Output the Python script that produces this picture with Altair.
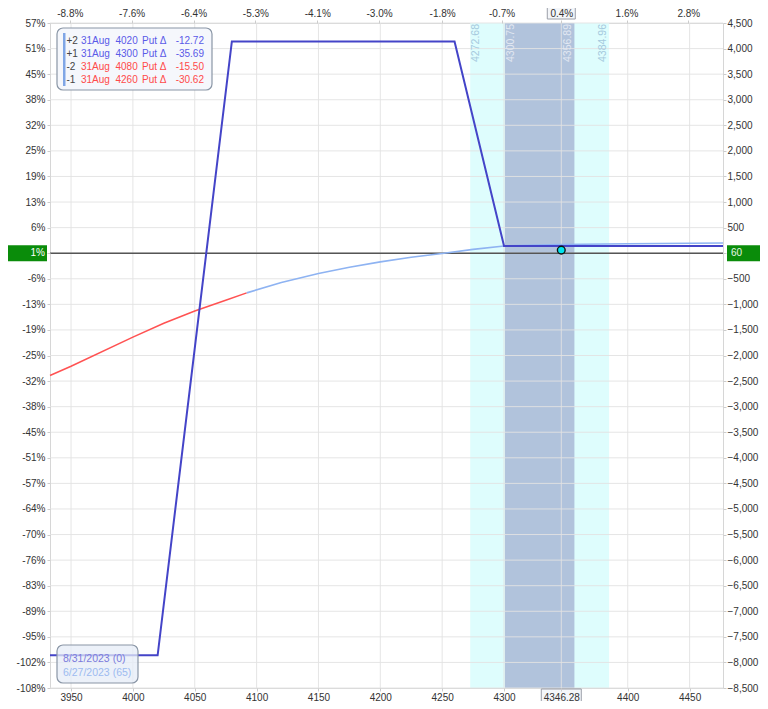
import json
import altair as alt
import pandas as pd

FONT = "Liberation Sans"
W, H = 673, 665

# ---------------- data ----------------
x_domain = [3933, 4477]
y_domain = [-8500, 4500]

# expiration P&L (8/31/2023)
exp_price = [3933, 4020, 4080, 4260, 4300, 4477]
exp_pnl = [-7860, -7860, 4140, 4140, 140, 140]

# T+0 P&L (6/27/2023)
t0_price = [3933, 3950, 4000, 4025, 4050, 4075, 4092, 4120, 4150, 4175, 4200,
            4225, 4250, 4275, 4300, 4346, 4400, 4477]
t0_pnl = [-2390, -2210, -1640, -1370, -1130, -920, -776, -573, -397, -275, -170,
          -80, -5, 75, 140, 170, 185, 200]
t0_red_until = 4092

# bands
outer_band = [4272.68, 4384.96]
inner_band = [4300.75, 4356.89]

# current point
cur_price = 4346.28
cur_pnl = 60

# axes
bottom_ticks = [3950, 4000, 4050, 4100, 4150, 4200, 4250, 4300, 4346.28, 4400, 4450]
top_vals = [3949, 3999, 4049, 4099, 4149, 4199, 4250, 4298, 4346.28, 4399, 4449]
top_labels = ["-8.8%", "-7.6%", "-6.4%", "-5.3%", "-4.1%", "-3.0%", "-1.8%",
              "-0.7%", "0.4%", "1.6%", "2.8%"]
y_ticks = list(range(4500, -9000, -500))
left_labels = ["57%", "51%", "45%", "38%", "32%", "25%", "19%", "13%", "6%", "1%",
               "-6%", "-13%", "-19%", "-25%", "-32%", "-38%", "-45%", "-51%", "-57%",
               "-64%", "-70%", "-76%", "-83%", "-89%", "-95%", "-102%", "-108%"]
right_zero_label = "60"

# legend
leg_qty = ["+2", "+1", "-2", "-1"]
leg_exp = ["31Aug", "31Aug", "31Aug", "31Aug"]
leg_strike = [4020, 4300, 4080, 4260]
leg_delta = [-12.72, -35.69, -15.50, -30.62]
leg_dates = ["8/31/2023 (0)", "6/27/2023 (65)"]

# ---------------- styles ----------------
BLUE = "#4444c8"
LIGHT = "#8eb3f2"
RED = "#ff5252"
xs = alt.Scale(domain=x_domain, nice=False, zero=False)
ys = alt.Scale(domain=y_domain, nice=False, zero=False)

axis_common = dict(labelFont=FONT, labelFontSize=10, labelColor="#333333",
                   domain=False, grid=False, tickColor="#cccccc", tickSize=3,
                   labelOverlap=False, labelFlush=False, zindex=1, title=None)

exp_df = pd.DataFrame({"p": exp_price, "v": exp_pnl})
t0_df = pd.DataFrame({"p": t0_price, "v": t0_pnl})
red_df = t0_df[t0_df.p <= t0_red_until]
blue_df = t0_df[t0_df.p >= t0_red_until]

layers = []

# bands
layers.append(alt.Chart(pd.DataFrame({"a": [outer_band[0]], "b": [outer_band[1]]}))
              .mark_rect(color="#defdfd")
              .encode(x=alt.X("a:Q", scale=xs, axis=None), x2="b:Q",
                      y=alt.value(0), y2=alt.value(H)))
layers.append(alt.Chart(pd.DataFrame({"a": [inner_band[0]], "b": [inner_band[1]]}))
              .mark_rect(color="#b1c3dc")
              .encode(x=alt.X("a:Q", scale=xs, axis=None), x2="b:Q",
                      y=alt.value(0), y2=alt.value(H)))

# grid
layers.append(alt.Chart(pd.DataFrame({"p": bottom_ticks}))
              .mark_rule(color="#e2e2e2", strokeWidth=1, opacity=0.9)
              .encode(x=alt.X("p:Q", scale=xs, axis=None)))
layers.append(alt.Chart(pd.DataFrame({"v": y_ticks}))
              .mark_rule(color="#e2e2e2", strokeWidth=1, opacity=0.9)
              .encode(y=alt.Y("v:Q", scale=ys, axis=None)))

# band labels
lab_lo = pd.DataFrame({"p": [outer_band[0]], "t": [f"{outer_band[0]:.2f}"]})
lab_lo2 = pd.DataFrame({"p": [inner_band[0]], "t": [f"{inner_band[0]:.2f}"]})
lab_hi2 = pd.DataFrame({"p": [inner_band[1]], "t": [f"{inner_band[1]:.2f}"]})
lab_hi = pd.DataFrame({"p": [outer_band[1]], "t": [f"{outer_band[1]:.2f}"]})
for df, off, col in [(lab_lo, 6, "#a5c9de"), (lab_lo2, 6, "#e2e8f2"),
                     (lab_hi2, -6, "#e2e8f2"), (lab_hi, -6, "#a5c9de")]:
    layers.append(alt.Chart(df)
                  .mark_text(angle=270, align="right", baseline="middle", font=FONT,
                             fontSize=10.5, color=col, xOffset=off)
                  .encode(x=alt.X("p:Q", scale=xs, axis=None), y=alt.value(1),
                          text="t:N"))

# zero line
layers.append(alt.Chart(pd.DataFrame({"v": [0]}))
              .mark_rule(color="#555555", strokeWidth=1.5)
              .encode(y=alt.Y("v:Q", scale=ys, axis=None)))

# T+0 line (red part + light blue part, light blue carries top/right axes)
layers.append(alt.Chart(red_df).mark_line(color=RED, strokeWidth=1.5)
              .encode(x=alt.X("p:Q", scale=xs, axis=None),
                      y=alt.Y("v:Q", scale=ys, axis=None)))
top_expr = f"{json.dumps(top_labels)}[indexof({json.dumps(top_vals)}, datum.value)]"
layers.append(alt.Chart(blue_df).mark_line(color=LIGHT, strokeWidth=1.6)
              .encode(x=alt.X("p:Q", scale=xs,
                              axis=alt.Axis(orient="top", values=top_vals,
                                            labelExpr=top_expr, labelPadding=2,
                                            **axis_common)),
                      y=alt.Y("v:Q", scale=ys,
                              axis=alt.Axis(orient="right", values=y_ticks,
                                            labelExpr="datum.value == 0 ? '' : format(datum.value, ',')",
                                            labelPadding=1, **axis_common))))

# expiration line with bottom/left axes
bottom_expr = ("abs(datum.value - 4346.28) < 0.01 ? '4346.28' : format(datum.value, 'd')")
left_expr = f"datum.value == 0 ? '' : {json.dumps(left_labels)}[round((4500 - datum.value) / 500)]"
layers.append(alt.Chart(exp_df).mark_line(color=BLUE, strokeWidth=2)
              .encode(x=alt.X("p:Q", scale=xs,
                              axis=alt.Axis(orient="bottom", values=bottom_ticks,
                                            labelExpr=bottom_expr, labelPadding=1,
                                            **axis_common)),
                      y=alt.Y("v:Q", scale=ys,
                              axis=alt.Axis(orient="left", values=y_ticks,
                                            labelExpr=left_expr, labelPadding=2,
                                            **axis_common))))

# current point
cur_df = pd.DataFrame({"p": [cur_price], "v": [cur_pnl]})
layers.append(alt.Chart(cur_df)
              .mark_circle(size=60, color="#00e4ee", opacity=1, stroke="#111111",
                           strokeWidth=1.4)
              .encode(x=alt.X("p:Q", scale=xs, axis=None),
                      y=alt.Y("v:Q", scale=ys, axis=None)))

# highlight boxes for current price on top / bottom axes
layers.append(alt.Chart(cur_df)
              .mark_rect(width=28, height=13, fill="#eef1f6", stroke="#5a6070",
                         strokeWidth=1, opacity=0.6)
              .encode(x=alt.X("p:Q", scale=xs, axis=None), y=alt.value(-10.5)))
layers.append(alt.Chart(cur_df)
              .mark_rect(width=40, height=15, fill="#eef1f6", stroke="#5a6070",
                         strokeWidth=1, opacity=0.6)
              .encode(x=alt.X("p:Q", scale=xs, axis=None), y=alt.value(673.5)))

# green boxes for current values on y axes
zero_df = pd.DataFrame({"v": [0], "l": [left_labels[9]], "r": [right_zero_label]})
layers.append(alt.Chart(zero_df).mark_rect(height=16, color="#0a8c0a")
              .encode(x=alt.value(-50), x2=alt.value(-3),
                      y=alt.Y("v:Q", scale=ys, axis=None)))
layers.append(alt.Chart(zero_df).mark_rect(height=16, color="#0a8c0a")
              .encode(x=alt.value(677), x2=alt.value(720),
                      y=alt.Y("v:Q", scale=ys, axis=None)))
layers.append(alt.Chart(zero_df)
              .mark_text(align="right", baseline="middle", font=FONT, fontSize=10,
                         color="white")
              .encode(x=alt.value(-5), y=alt.Y("v:Q", scale=ys, axis=None), text="l:N"))
layers.append(alt.Chart(zero_df)
              .mark_text(align="left", baseline="middle", font=FONT, fontSize=10,
                         color="#e6f5e6")
              .encode(x=alt.value(681), y=alt.Y("v:Q", scale=ys, axis=None), text="r:N"))


def txt(s, x, y, color, size=10, align="left"):
    return (alt.Chart(pd.DataFrame({"t": [s]}))
            .mark_text(align=align, baseline="middle", font=FONT, fontSize=size,
                       color=color)
            .encode(x=alt.value(x), y=alt.value(y), text="t:N"))


def box(x0, x1, y0, y1, fill, opacity=1.0):
    return (alt.Chart(pd.DataFrame({"a": [0]}))
            .mark_rect(cornerRadius=6, fill=fill, stroke="#8a96a6", strokeWidth=1.2,
                       fillOpacity=opacity)
            .encode(x=alt.value(x0), x2=alt.value(x1), y=alt.value(y0), y2=alt.value(y1)))


# top-left legend
layers.append(box(7, 162, 5, 67, "#f5f7fc"))
layers.append(alt.Chart(pd.DataFrame({"a": [0]})).mark_rect(color="#80a6e6")
              .encode(x=alt.value(13), x2=alt.value(15.5), y=alt.value(10), y2=alt.value(63)))
for i in range(4):
    y = 17.5 + 13.2 * i
    col = "#5a5ae8" if leg_qty[i].startswith("+") else "#ff4a4a"
    layers.append(txt(leg_qty[i], 16.5, y, "#444444"))
    layers.append(txt(leg_exp[i], 31, y, col))
    layers.append(txt(str(leg_strike[i]), 65.5, y, col))
    layers.append(txt("Put Δ", 92, y, col))
    layers.append(txt(f"{leg_delta[i]:.2f}", 154, y, col, align="right"))

# bottom-left legend
layers.append(box(7, 88, 622, 660, "#e6ecf7", 0.75))
layers.append(txt(leg_dates[0], 13, 635.5, "#7b7bdc", 10.5))
layers.append(txt(leg_dates[1], 13, 650, "#9dbbf0", 10.5))

chart = (alt.layer(*layers)
         .resolve_axis(x="independent", y="independent")
         .properties(width=W, height=H,
                     autosize=alt.AutoSizeParams(type="none"),
                     padding={"left": 42, "top": 15, "right": 37, "bottom": 13})
         .configure_view(stroke="#d6d6d6", strokeWidth=1)
         .configure_axis(grid=False))

chart.save("out.html", embed_options={"renderer": "svg", "actions": False})
